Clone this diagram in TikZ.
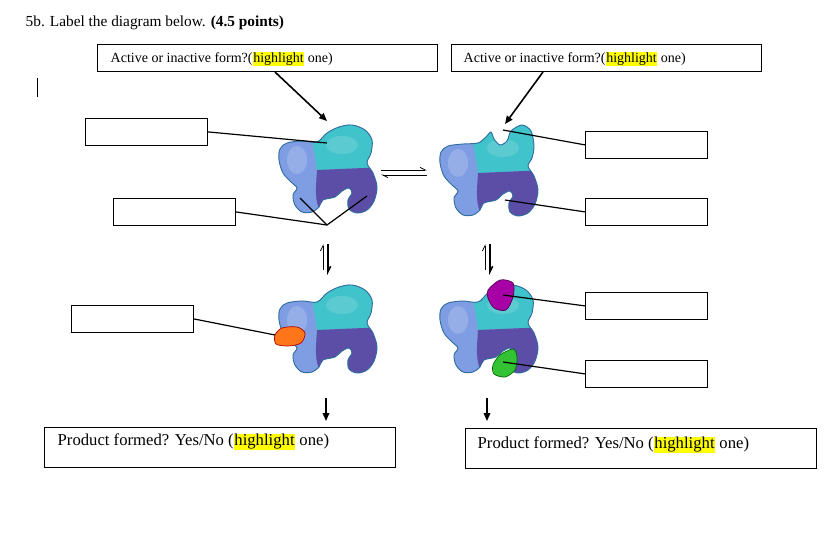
\documentclass[tikz,border=0pt]{standalone}
\usepackage{fontspec}
\setmainfont{Liberation Serif}
\usetikzlibrary{arrows.meta}
\definecolor{eb}{HTML}{7E9DE2}
\definecolor{ec}{HTML}{40C3CA}
\definecolor{ep}{HTML}{5C4EA6}
\definecolor{eo}{HTML}{2F6E9E}
\definecolor{hl}{HTML}{FFFF00}
\tikzset{qbox/.style={draw,line width=0.6pt,anchor=north west,inner sep=0pt},
 lbl/.style={line width=0.9pt},
 harp/.style={line width=0.6pt,-{Straight Barb[harpoon,length=4pt,width=4pt]}},
 darr/.style={line width=1.2pt,-{Triangle[length=6pt,width=5pt]}}}
\newcommand\hlw[1]{\begingroup\setlength{\fboxsep}{0.5pt}\colorbox{hl}{#1}\endgroup}
\newcommand\blobA{plot[smooth cycle,tension=0.55] coordinates{(40,17)(50,8)(62,2)(75,0)(88,5)(95,15)(94,28)(90,38)(96,48)(100,62)(97,76)(90,85)(80,88)(72,84)(71,75)(75,68)(72,63)(65,66)(58,72)(46,75)(42,82)(35,87)(25,87)(18,80)(16,70)(20,63)(14,57)(6,48)(2,35)(3,24)(10,18)(25,16)}}
\newcommand\blobB{plot[smooth cycle,tension=0.5] coordinates{(40,15)(48,9)(53,4)(56,11)(62,17)(69,13)(73,3)(84,-3)(93,3)(96,18)(94,30)(90,38)(96,48)(100,62)(97,76)(90,85)(80,88)(72,84)(71,75)(75,68)(72,63)(65,66)(58,72)(46,75)(42,82)(35,87)(25,87)(18,80)(16,70)(20,63)(14,57)(6,48)(2,35)(3,24)(10,18)(25,16)}}
\newcommand\enz[2]{\begin{scope}[shift={#1}]
 \begin{scope}\clip #2;
  \fill[eb] (-5,-10) rectangle (110,100);
  \fill[ec] (34,-10) -- (110,-10) -- (110,42) -- (40,45) .. controls (38,30) .. (34,10) -- cycle;
  \fill[ep] (40,45) -- (110,42) -- (110,100) -- (48,100) .. controls (38,75) .. (40,45) -- cycle;
  \fill[white,opacity=0.18] (20,35) ellipse (10 and 14);
  \fill[white,opacity=0.15] (65,20) ellipse (16 and 9);
 \end{scope}
 \draw[eo,line width=0.7pt] #2;
\end{scope}}
\begin{document}
\begin{tikzpicture}[x=0.75pt,y=-0.75pt]
\useasboundingbox (0,0) rectangle (840,547);
\node[anchor=west,font=\fontsize{11.5}{13}\selectfont] (title) at (21,23) {5b. Label the diagram below. \textbf{(4.5 points)}};
\draw[line width=0.6pt] (37,78) -- (37,97);
\node[qbox,minimum width=255pt,minimum height=20.25pt] (q1) at (97,44) {};
\node[anchor=west,font=\fontsize{10.5}{12}\selectfont] at (106,59) {Active or inactive form?(\hlw{highlight} one)};
\node[qbox,minimum width=232.5pt,minimum height=20.25pt] (q2) at (451,44) {};
\node[anchor=west,font=\fontsize{10.5}{12}\selectfont] at (459,59) {Active or inactive form?(\hlw{highlight} one)};
% enzymes
\enz{(277,125)}{\blobA}
\enz{(438,128)}{\blobB}
\enz{(277,285)}{\blobA}
\enz{(438,285)}{\blobA}
\fill[orange!80!red!90!white,draw=red!70!black,line width=0.5pt] plot[smooth cycle] coordinates{(275,335)(282,328)(297,327)(305,333)(301,343)(288,346)(276,344)};
\fill[violet!70!magenta,draw=violet!60!black,line width=0.5pt] plot[smooth cycle] coordinates{(488,290)(500,280)(513,283)(513,297)(506,310)(494,308)(488,298)};
\fill[green!70!black!80!white,draw=green!40!black,line width=0.5pt] plot[smooth cycle] coordinates{(493,365)(500,355)(513,349)(517,357)(515,370)(505,377)(494,374)};
% empty boxes
\node[qbox,minimum width=91.5pt,minimum height=20.25pt] (b1) at (85,118) {};
\node[qbox,minimum width=91.5pt,minimum height=20.25pt] (b2) at (113,198) {};
\node[qbox,minimum width=91.5pt,minimum height=20.25pt] (b3) at (71,305) {};
\node[qbox,minimum width=91.5pt,minimum height=20.25pt] (b4) at (585,131) {};
\node[qbox,minimum width=91.5pt,minimum height=20.25pt] (b5) at (585,198) {};
\node[qbox,minimum width=91.5pt,minimum height=20.25pt] (b6) at (585,292) {};
\node[qbox,minimum width=91.5pt,minimum height=20.25pt] (b7) at (585,360) {};
\coordinate (t1) at (327,143); \coordinate (v) at (327,225);
\coordinate (v1) at (300,198); \coordinate (v2) at (367,196);
\coordinate (t4) at (503,130); \coordinate (t5) at (505,200);
\coordinate (t3) at (275,335); \coordinate (t6) at (503,295); \coordinate (t7) at (503,362);
\draw[lbl] (b1.east) -- (t1);
\draw[lbl] (b2.east) -- (v); \draw[lbl] (v1) -- (v) -- (v2);
\draw[lbl] (b3.east) -- (t3);
\draw[lbl] (b4.west) -- (t4);
\draw[lbl] (b5.west) -- (t5);
\draw[lbl] (b6.west) -- (t6);
\draw[lbl] (b7.west) -- (t7);
\coordinate (a1) at (327,121); \coordinate (a2) at (505,124);
\draw[darr] (275,72) -- (a1);
\draw[darr] (543,72) -- (a2);
\draw[harp] (381,170) -- (427,170);
\draw[harp] (427,175) -- (381,175);
\draw[harp] (323,270) -- (323,244);
\draw[harp,line width=1.2pt] (328,244) -- (328,275);
\draw[harp] (485,270) -- (485,244);
\draw[harp,line width=1.2pt] (490,244) -- (490,275);
\node[qbox,minimum width=263.25pt,minimum height=30pt] (p1) at (44,427) {};
\node[anchor=west,font=\fontsize{12.5}{14}\selectfont] at (53,442) {Product formed? Yes/No (\hlw{highlight} one)};
\node[qbox,minimum width=263.25pt,minimum height=30pt] (p2) at (465,428) {};
\node[anchor=west,font=\fontsize{12.5}{14}\selectfont] at (473,445) {Product formed? Yes/No (\hlw{highlight} one)};
\draw[darr,line width=0.9pt] (326,398) -- (326,421);
\draw[darr,line width=0.9pt] (487,398) -- (487,421);
\end{tikzpicture}
\end{document}
